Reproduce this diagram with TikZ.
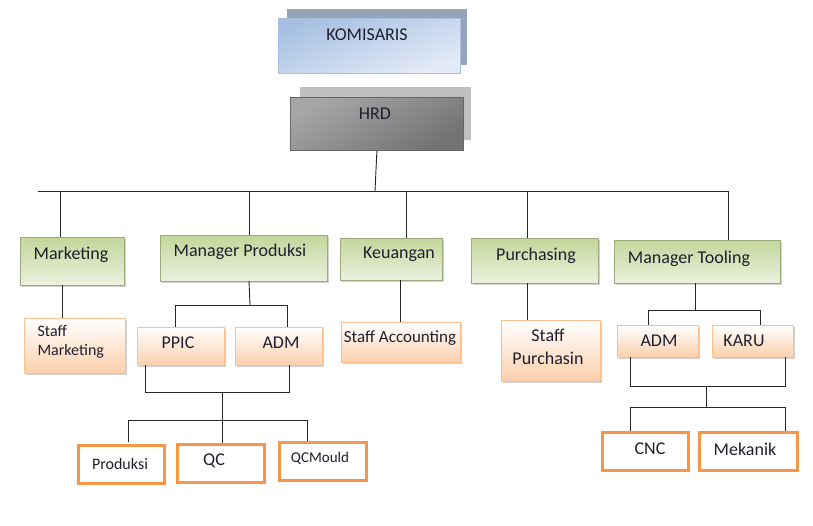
\documentclass[tikz,border=0pt]{standalone}
\usepackage{fontspec}
\setmainfont{Carlito}
\usetikzlibrary{shadows}
\definecolor{og}{HTML}{F79646}
\definecolor{gtop}{HTML}{C3D69B}
\definecolor{gbot}{HTML}{EBF1DE}
\definecolor{ptop}{HTML}{FFFFFF}
\definecolor{pbot}{HTML}{FBCFAA}
\definecolor{btop}{HTML}{A7C0E2}
\definecolor{bbot}{HTML}{E3EBF6}
\definecolor{bsh}{HTML}{97A3B6}
\definecolor{txt}{HTML}{1F1F2F}
\begin{document}
\begin{tikzpicture}[x=1pt,y=-1pt,
 ln/.style={draw=black!85,line width=0.9pt},
 fs/.style={font=\fontsize{18}{21}\selectfont,text=txt},
 green/.style={draw=gtop!80!black,line width=0.8pt,top color=gtop,bottom color=gbot,
   drop shadow={shadow xshift=2pt,shadow yshift=-2pt,fill=black!30,opacity=.6},anchor=north west,inner sep=0pt},
 peach/.style={draw=og!60,line width=0.8pt,top color=ptop,bottom color=pbot,
   drop shadow={shadow xshift=2pt,shadow yshift=-2pt,fill=black!30,opacity=.6},anchor=north west,inner sep=0pt},
 org/.style={draw=og,line width=2.8pt,fill=white,anchor=north west,inner sep=0pt}]
\useasboundingbox (0,0) rectangle (813,526);
% KOMISARIS
\fill[bsh] (287,9) rectangle (467,65);
\node[draw=btop,line width=0.8pt,top color=btop,bottom color=bbot,shading angle=20,anchor=north west,minimum width=182pt,minimum height=55pt,inner sep=0pt] (kom) at (278,18) {};
\node[fs] at (367,35) {KOMISARIS};
% HRD
\fill[black!25] (300,87) rectangle (471,140);
\node[draw=black!60,line width=0.8pt,left color=black!35,right color=black!55,shading angle=30,anchor=north west,minimum width=173pt,minimum height=53pt,inner sep=0pt] (hrd) at (290,97) {};
\node[fs] at (375,114) {HRD};
\coordinate (h0) at (375,191);
\draw[ln] (hrd.south) -- (h0);
\draw[ln] (38,191) -- (728,191);
% level 2
\node[green,minimum width=104pt,minimum height=48pt] (mkt) at (20,237) {};
\node[fs] at (71,255) {Marketing};
\node[green,minimum width=167pt,minimum height=46pt] (mp) at (160,235) {};
\node[fs] at (240,252) {Manager Produksi};
\node[green,minimum width=102pt,minimum height=42pt] (keu) at (340,238) {};
\node[fs] at (399,254) {Keuangan};
\node[green,minimum width=127pt,minimum height=45pt] (pur) at (471,238) {};
\node[fs] at (536,256) {Purchasing};
\node[green,minimum width=166pt,minimum height=43pt] (mt) at (614,240) {};
\node[fs] at (689,259) {Manager Tooling};
\foreach \x/\n in {60/mkt,249/mp,406/keu,527/pur,728/mt}{\draw[ln] (\x,191) -- (\n.north -| \x,0);}
% level 3
\node[peach,minimum width=101pt,minimum height=55pt] (sm) at (24,318) {};
\node[fs,font=\fontsize{16}{19}\selectfont,align=left,anchor=west] at (34,342) {Staff\\Marketing};
\draw[ln] (62,285) -- (sm.north -| 62,0);
\node[peach,minimum width=87pt,minimum height=38pt] (ppic) at (137,327) {};
\node[fs] at (178,343) {PPIC};
\node[peach,minimum width=87pt,minimum height=38pt] (adm) at (235,327) {};
\node[fs] at (281,343) {ADM};
\coordinate (mp1) at (250,305);
\draw[ln] (249,281) -- (mp1);
\draw[ln] (175,327) -- (175,305) -- (287,305) -- (287,327);
\node[peach,minimum width=119pt,minimum height=40pt] (sa) at (341,322) {};
\node[fs,font=\fontsize{17}{20}\selectfont] at (400,338) {Staff Accounting};
\draw[ln] (400,280) -- (sa.north -| 400,0);
\node[peach,minimum width=99pt,minimum height=61pt] (sp) at (501,320) {};
\node[fs,font=\fontsize{18}{23}\selectfont,align=center] at (548,347) {Staff\\Purchasin};
\draw[ln] (527,283) -- (sp.north -| 527,0);
\node[peach,minimum width=81pt,minimum height=32pt] (adm2) at (617,325) {};
\node[fs] at (659,341) {ADM};
\node[peach,minimum width=81pt,minimum height=32pt] (karu) at (712,325) {};
\node[fs] at (744,341) {KARU};
\draw[ln] (695,283) -- (695,310);
\draw[ln] (648,325) -- (648,310) -- (760,310) -- (760,325);
% level 4 produksi
\node[org,minimum width=86pt,minimum height=38pt] (prod) at (77,444) {};
\node[fs,font=\fontsize{16}{18}\selectfont] at (120,464) {Produksi};
\node[org,minimum width=87pt,minimum height=38pt] (qc) at (176,443) {};
\node[fs] at (214,461) {QC};
\node[org,minimum width=87pt,minimum height=38pt] (qcm) at (278,441) {};
\node[fs,font=\fontsize{15}{17}\selectfont] at (320,458) {QCMould};
\draw[ln] (145,365) -- (145,392) -- (289,392) -- (289,365);
\draw[ln] (222,392) -- (222,443);
\draw[ln] (128,442) -- (128,420) -- (307,420) -- (307,441);
% level 4 tooling
\node[org,minimum width=86pt,minimum height=38pt] (cnc) at (601,431) {};
\node[fs] at (650,449) {CNC};
\node[org,minimum width=98pt,minimum height=38pt] (mek) at (698,431) {};
\node[fs] at (745,449) {Mekanik};
\draw[ln] (630,357) -- (630,386) -- (785,386) -- (785,357);
\draw[ln] (706,386) -- (706,407);
\draw[ln] (630,431) -- (630,407) -- (785,407) -- (785,431);
\end{tikzpicture}
\end{document}
